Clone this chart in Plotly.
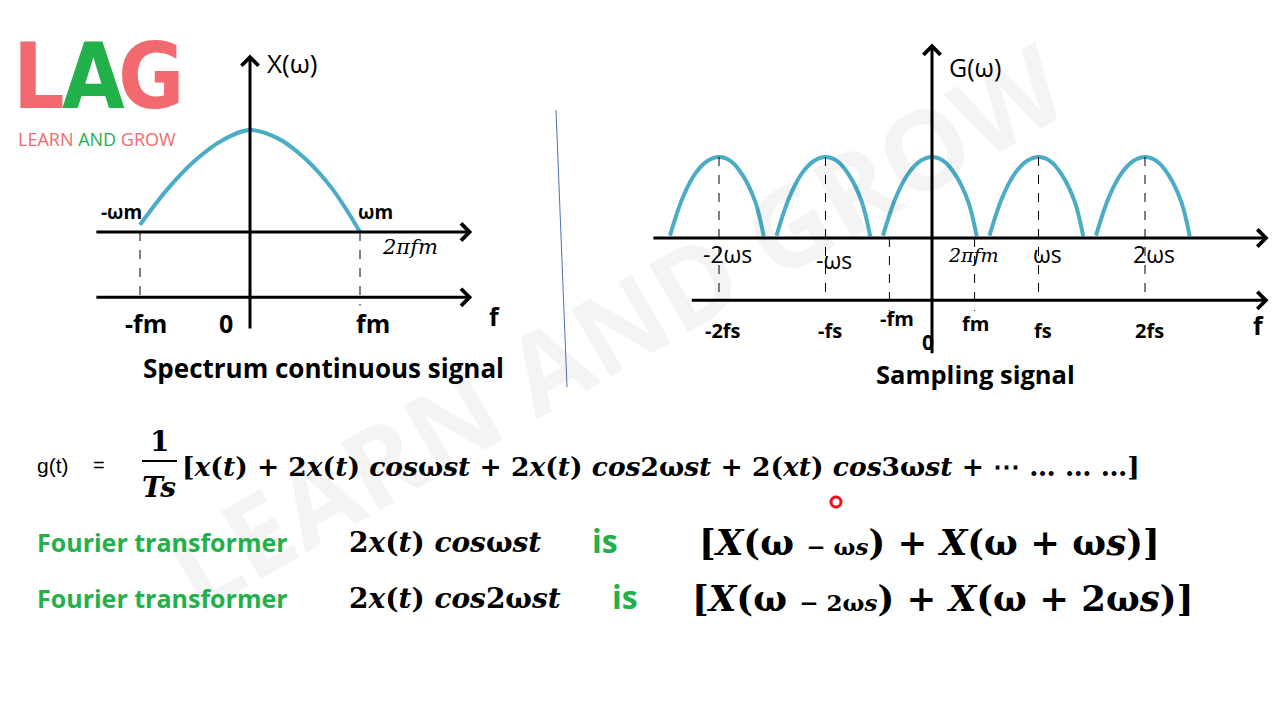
import plotly.graph_objects as go

# ---- data (left panel: frequency in units of fm, amplitude relative to X(0)) ----
spec_f = [-1.0, -0.75, -0.5, -0.25, 0.0, 0.25, 0.5, 0.75, 1.0]
spec_amp = [0.07, 0.42, 0.70, 0.90, 1.0, 0.92, 0.72, 0.42, 0.0]
left_f_labels = ["-fm", "0", "fm"]
left_f_ticks = [-0.95, -0.22, 1.12]
left_w_labels = ["-ωm", "ωm"]

# ---- data (right panel: frequency in units of ws) ----
rep_centres = [-2, -1, 0, 1, 2]
arc_offsets = [-0.46, -0.34, -0.22, -0.11, 0.0, 0.11, 0.22, 0.34, 0.42]
arc_heights = [0.03, 0.50, 0.80, 0.95, 1.0, 0.95, 0.78, 0.45, 0.02]
fm_ratio = 0.40
w_labels = ["-2ωs", "-ωs", "ωs", "2ωs"]
f_labels = ["-2fs", "-fs", "fs", "2fs"]

BLUE = "#4bacc6"
GREEN = "#22b04b"
SALMON = "#f2696f"
SANS = "Open Sans"
SERIF = "DejaVu Serif"
NARROW = "Liberation Sans Narrow, DejaVu Sans Condensed, sans-serif"

W, H = 1280, 720
OFF = 8  # page body margin


def px(x):
    return (x - OFF) / W


def py(y):
    return 1 - (y - OFF) / H


fig = go.Figure()

# left spectrum
fig.add_trace(go.Scatter(x=spec_f, y=spec_amp, mode="lines", line=dict(color=BLUE, width=4, shape="spline"),
                         xaxis="x", yaxis="y", hoverinfo="skip"))
for f, bottom in [(-1.0, -0.64), (1.0, -0.72)]:
    fig.add_trace(go.Scatter(x=[f, f], y=[0, bottom], mode="lines", line=dict(color="black", width=1, dash="dash"),
                             xaxis="x", yaxis="y", hoverinfo="skip"))

# right spectrum: replicas
for c in rep_centres:
    fig.add_trace(go.Scatter(x=[c + o for o in arc_offsets], y=arc_heights, mode="lines",
                             line=dict(color=BLUE, width=4, shape="spline"),
                             xaxis="x2", yaxis="y2", hoverinfo="skip"))
    if c != 0:
        fig.add_trace(go.Scatter(x=[c, c], y=[1, -0.77], mode="lines",
                                 line=dict(color="black", width=1, dash="dash"),
                                 xaxis="x2", yaxis="y2", hoverinfo="skip"))
for f in [-fm_ratio, fm_ratio]:
    fig.add_trace(go.Scatter(x=[f, f], y=[0, -0.9], mode="lines", line=dict(color="black", width=1, dash="dash"),
                             xaxis="x2", yaxis="y2", hoverinfo="skip"))

ann = []


def arrow(x0, y0, x1, y1, xr, yr):
    ann.append(dict(x=x1, y=y1, ax=x0, ay=y0, xref=xr, yref=yr, axref=xr, ayref=yr, text="",
                    showarrow=True, arrowhead=4, arrowsize=1.1, arrowwidth=3, arrowcolor="black"))


# left axes
arrow(-1.41, 0, 2.02, 0, "x", "y")
arrow(-1.41, -0.64, 2.02, -0.64, "x", "y")
arrow(0, -0.96, 0, 1.74, "x", "y")
# right axes
arrow(-2.63, 0, 3.16, 0, "x2", "y2")
arrow(-2.27, -0.77, 3.16, -0.77, "x2", "y2")
arrow(0, -1.44, 0, 2.4, "x2", "y2")


def txt(x, y, s, size, xr="paper", yr="paper", color="black", family=SANS, xanchor="center", angle=0):
    ann.append(dict(x=x, y=y, xref=xr, yref=yr, text=s, showarrow=False, xanchor=xanchor, yanchor="middle",
                    textangle=angle, font=dict(size=size, color=color, family=family)))


# watermark
txt(px(615), py(325), "<b>LEARN AND GROW</b>", 110, color="rgba(0,0,0,0.045)", angle=-30)

# left labels
for s, f in zip(left_f_labels, left_f_ticks):
    txt(f, -0.89, "<b>%s</b>" % s, 25, "x", "y")
txt(-1.17, 0.2, "<b>%s</b>" % left_w_labels[0], 19, "x", "y")
txt(1.14, 0.2, "<b>%s</b>" % left_w_labels[1], 19, "x", "y")
txt(1.45, -0.15, "<i>2πfm</i>", 21, "x", "y", family=SERIF)
txt(2.22, -0.82, "<b>f</b>", 25, "x", "y")
txt(0.38, 1.66, "X(ω)", 26, "x", "y")
txt(px(323), py(368), "<b>Spectrum continuous signal</b>", 26)

# right labels
for s, c in zip(w_labels, [-2, -1, 1, 2]):
    txt(c + 0.08, -0.2 if abs(c) == 2 or c == 1 else -0.27, s, 23, "x2", "y2")
for s, c in zip(f_labels, [-2, -1, 1, 2]):
    txt(c + 0.04, -1.14, "<b>%s</b>" % s, 20, "x2", "y2")
txt(0.39, -0.21, "<i>2πfm</i>", 19, "x2", "y2", family=SERIF)
txt(-0.33, -0.99, "<b>-fm</b>", 20, "x2", "y2")
txt(0.41, -1.05, "<b>fm</b>", 20, "x2", "y2")
txt(-0.04, -1.29, "<b>0</b>", 21, "x2", "y2")
txt(3.07, -1.07, "<b>f</b>", 25, "x2", "y2")
txt(0.40, 2.11, "G(ω)", 25, "x2", "y2")
txt(px(975), py(374), "<b>Sampling signal</b>", 25.5)

# logo
for letter, lx, col in [("L", 39, SALMON), ("A", 93, GREEN), ("G", 151, SALMON)]:
    txt(px(lx), py(76), "<b>%s</b>" % letter, 90, color=col, family=NARROW)
txt(px(16), py(139), "<span style='color:%s'>LEARN </span><span style='color:%s'>AND</span>"
    "<span style='color:%s'> GROW</span>" % (SALMON, GREEN, SALMON), 18, xanchor="left")

# equations
txt(px(35), py(465), "g(t)", 21, family="Liberation Sans", xanchor="left")
txt(px(99), py(465), "=", 20, family="Liberation Sans")
txt(px(159), py(441), "<b>1</b>", 28, family=SERIF)
txt(px(159), py(487), "<b><i>Ts</i></b>", 28, family=SERIF)
txt(px(180), py(467), "<b>[<i>x</i>(<i>t</i>) + 2<i>x</i>(<i>t</i>) <i>cos</i>ω<i>st</i> + 2<i>x</i>(<i>t</i>) "
    "<i>cos</i>2ω<i>st</i> + 2(<i>xt</i>) <i>cos</i>3ω<i>st</i> + ⋯ … … …]</b>", 26.5, family=SERIF, xanchor="left")

rows = [(542, "2<i>x</i>(<i>t</i>) <i>cos</i>ω<i>st</i>", 605,
         "[<i>X</i>(ω <span style='font-size:23px'>− ω<i>s</i></span>) + <i>X</i>(ω + ω<i>s</i>)]", 697),
        (598, "2<i>x</i>(<i>t</i>) <i>cos</i>2ω<i>st</i>", 625,
         "[<i>X</i>(ω <span style='font-size:23px'>− 2ω<i>s</i></span>) + <i>X</i>(ω + 2ω<i>s</i>)]", 690)]
for y, lhs, isx, rhs, rx in rows:
    txt(px(35), py(y), "<b>Fourier transformer</b>", 25, color=GREEN, xanchor="left")
    txt(px(347), py(y), "<b>%s</b>" % lhs, 28, family=SERIF, xanchor="left")
    txt(px(isx), py(y - 2), "<b>is</b>", 32, color=GREEN)
    txt(px(rx), py(y), "<b>%s</b>" % rhs, 35.5, family=SERIF, xanchor="left")

shapes = [
    dict(type="line", xref="paper", yref="paper", x0=px(142), x1=px(177), y0=py(461), y1=py(461),
         line=dict(color="black", width=2)),
    dict(type="line", xref="paper", yref="paper", x0=px(556), x1=px(567), y0=py(110), y1=py(387),
         line=dict(color="#4a72b8", width=1)),
    # cursor ring
    dict(type="circle", xref="paper", yref="paper", x0=px(829), x1=px(843), y0=py(495), y1=py(509),
         fillcolor="rgba(255,120,120,0.25)", line=dict(color="rgba(0,0,0,0)")),
    dict(type="circle", xref="paper", yref="paper", x0=px(831), x1=px(841), y0=py(497), y1=py(507),
         fillcolor="white", line=dict(color="#e8141c", width=3)),
]

fig.update_layout(
    width=W, height=H, margin=dict(l=0, r=0, t=0, b=0),
    paper_bgcolor="white", plot_bgcolor="white", showlegend=False,
    xaxis=dict(range=[(OFF - 250) / 110, (W + OFF - 250) / 110], visible=False, domain=[0, 1]),
    yaxis=dict(range=[(232 - H - OFF) / 102, (232 - OFF) / 102], visible=False, domain=[0, 1]),
    xaxis2=dict(range=[(OFF - 932) / 106.5, (W + OFF - 932) / 106.5], visible=False, overlaying="x"),
    yaxis2=dict(range=[(238 - H - OFF) / 81, (238 - OFF) / 81], visible=False, overlaying="y"),
    annotations=ann, shapes=shapes,
)

fig.write_html("out.html")
